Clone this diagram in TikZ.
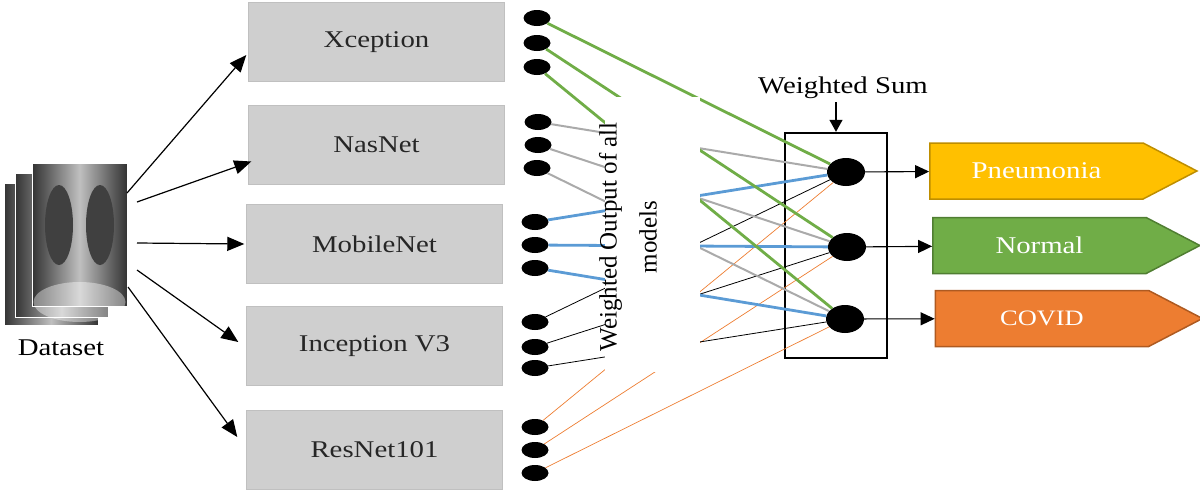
\documentclass[tikz,border=0pt]{standalone}
\usepackage{fontspec}
\setmainfont{Liberation Serif}[FakeStretch=1.2]
\newfontfamily\rotfont{Liberation Serif}
\usetikzlibrary{arrows.meta,shapes.geometric,shapes.symbols}

\definecolor{boxgray}{RGB}{207,207,207}
\definecolor{boxline}{RGB}{192,192,192}
\definecolor{wgreen}{RGB}{112,173,71}
\definecolor{wgray}{RGB}{170,170,170}
\definecolor{wblue}{RGB}{91,155,213}
\definecolor{worange}{RGB}{237,125,49}
\definecolor{gold}{RGB}{255,192,0}
\definecolor{goldline}{RGB}{190,142,0}
\definecolor{greenline}{RGB}{80,126,50}
\definecolor{orangeline}{RGB}{174,90,33}

\tikzset{
  model/.style={draw=boxline, fill=boxgray, minimum width=256pt, minimum height=79pt,
    font=\fontsize{24}{28}\selectfont, text=black!85},
  outdot/.style={ellipse, fill=black, minimum width=27pt, minimum height=16pt, inner sep=0pt},
  sumdot/.style={ellipse, fill=black, minimum width=38pt, minimum height=28pt, inner sep=0pt},
  arr/.style={-{Triangle[length=17pt,width=14pt]}, line width=1.2pt},
  outarr/.style={-{Triangle[length=14pt,width=13pt]}, line width=1.1pt},
  cls/.style={signal, signal to=east, signal pointer angle=55, line width=1.5pt,
    minimum width=267pt, minimum height=56pt, inner sep=0pt, text=white,
    font=\fontsize{24}{28}\selectfont},
  xray/.style={draw=white, line width=1pt, left color=black!80, right color=black!80,
    middle color=black!25}
}

\begin{document}
\begin{tikzpicture}[x=1pt,y=-1pt]
\useasboundingbox (0,0) rectangle (1200,493);

% dataset
\draw[xray] (4,183) rectangle (98,325);
\draw[xray] (15,173) rectangle (108,317);
\node[xray, minimum width=95pt, minimum height=143pt, inner sep=0pt] (data) at (79.5,234.5) {};
\fill[black!75] (59,225) ellipse (14pt and 40pt);
\fill[black!75] (100,225) ellipse (14pt and 40pt);
\fill[white, opacity=.4] (79.5,302) ellipse (46pt and 20pt);
\node[font=\fontsize{24}{28}\selectfont] (dlab) at (61,348) {Dataset};

\coordinate (d1) at (127,193);
\coordinate (d2) at (137,202);
\coordinate (d3) at (137,243);
\coordinate (d4) at (137,270);
\coordinate (d5) at (128,287);

% models
\node[model] (xcep) at (376.5,42) {Xception};
\node[model] (nas) at (376.5,144.5) {NasNet};
\node[model] (mob) at (374.5,244) {MobileNet};
\node[model] (inc) at (374.5,346) {Inception V3};
\node[model] (res) at (374.5,450) {ResNet101};

\draw[arr] (d1) -- ([shift={(-2pt,-13pt)}]xcep.west);
\draw[arr] (d2) -- ([shift={(3pt,-17pt)}]nas.west);
\draw[arr] (d3) -- ([xshift=-2pt]mob.west);
\draw[arr] (d4) -- ([shift={(-8pt,4pt)}]inc.west);
\draw[arr] (d5) -- ([shift={(-9pt,13pt)}]res.west);

% outputs of the models
\node[outdot] (xcep1) at (537,18) {};
\node[outdot] (xcep2) at (537,43) {};
\node[outdot] (xcep3) at (537,67) {};
\node[outdot] (nas1) at (538,122) {};
\node[outdot] (nas2) at (538,145) {};
\node[outdot] (nas3) at (537,168) {};
\node[outdot] (mob1) at (535,222) {};
\node[outdot] (mob2) at (535,245) {};
\node[outdot] (mob3) at (535,268) {};
\node[outdot] (inc1) at (535,322) {};
\node[outdot] (inc2) at (535,347) {};
\node[outdot] (inc3) at (535,368) {};
\node[outdot] (res1) at (535,427) {};
\node[outdot] (res2) at (535,450) {};
\node[outdot] (res3) at (535,473) {};

% weighted sum
\node[draw, line width=2.4pt, minimum width=102pt, minimum height=225pt] (wsum) at (836,245.5) {};
\node[font=\fontsize{24}{28}\selectfont] (wslab) at (843,88) {Weighted Sum};
\draw[-{Triangle[length=12pt,width=13pt]}, line width=1.2pt] (wsum.north |- wslab.south) -- (wsum.north);

\node[sumdot] (s1) at (846,172) {};
\node[sumdot] (s2) at (847,247) {};
\node[sumdot] (s3) at (845,319) {};

\draw[worange, line width=.7pt] (res1) -- (s1);
\draw[worange, line width=.7pt] (res2) -- (s2);
\draw[worange, line width=.7pt] (res3) -- (s3);
\draw[black, line width=.8pt] (inc1) -- (s1);
\draw[black, line width=.8pt] (inc2) -- (s2);
\draw[black, line width=.8pt] (inc3) -- (s3);
\draw[wgray, line width=2pt] (nas1) -- (s1);
\draw[wgray, line width=2pt] (nas2) -- (s2);
\draw[wgray, line width=2pt] (nas3) -- (s3);
\draw[wblue, line width=2.8pt] (mob1) -- (s1);
\draw[wblue, line width=2.8pt] (mob2) -- (s2);
\draw[wblue, line width=2.8pt] (mob3) -- (s3);
\draw[wgreen, line width=2.8pt] (xcep1) -- (s1);
\draw[wgreen, line width=2.8pt] (xcep2) -- (s2);
\draw[wgreen, line width=2.8pt] (xcep3) -- (s3);

\fill[white] (605,97) rectangle (700,372);
\node[rotate=90, align=center, font=\rotfont\fontsize{25}{40}\selectfont] (wout) at (628,237)
  {Weighted Output of all\\models};

% classes
\node[cls, fill=gold, draw=goldline] (pneu) at (1036.5,171) {Pneumonia};
\node[cls, fill=wgreen, draw=greenline] (norm) at (1039.5,245.5) {Normal};
\node[cls, fill=worange, draw=orangeline, font=\fontsize{22}{26}\selectfont] (covid) at (1042,318.5) {COVID};

\draw[outarr] (s1) -- (pneu);
\draw[outarr] (s2) -- (norm);
\draw[outarr] (s3) -- (covid);

\end{tikzpicture}
\end{document}
